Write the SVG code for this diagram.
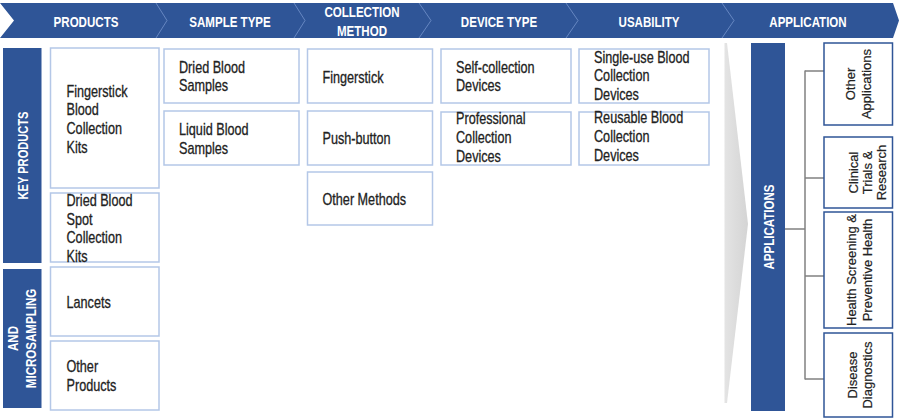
<svg xmlns="http://www.w3.org/2000/svg" width="900" height="419" viewBox="0 0 900 419">
<defs>
<style>
.hdr{font-family:"Liberation Sans",Arial,sans-serif;font-weight:bold;font-size:15px;fill:#ffffff}
.body{font-family:"Liberation Sans",Arial,sans-serif;font-size:16px;fill:#222222;stroke:#222222;stroke-width:0.3}
.app{font-family:"Liberation Sans",Arial,sans-serif;font-size:13px;fill:#222222;stroke:#222222;stroke-width:0.2}
.box{fill:#ffffff;stroke:#B4C7E7;stroke-width:1.5}
.abox{fill:#ffffff;stroke:#2F5597;stroke-width:1.5}
.bar{fill:#2F5597}
.sep{fill:none;stroke:#7393CC;stroke-width:0.8}
.con{fill:none;stroke:#808080;stroke-width:1.5}
</style>
<linearGradient id="wedge" x1="0" y1="0" x2="1" y2="0">
<stop offset="0" stop-color="#e4e4e4"/>
<stop offset="1" stop-color="#d4d4d4"/>
</linearGradient>
</defs>
<rect width="900" height="419" fill="#ffffff"/>

<g id="header">
<polygon class="bar" points="0,3 893,3 899,20.5 893,38 0,38 14,20.5"/>
<polyline class="sep" points="156,3 167,20.5 156,38"/>
<polyline class="sep" points="294,3 305,20.5 294,38"/>
<polyline class="sep" points="419,3 431,20.5 419,38"/>
<polyline class="sep" points="566,3 578,20.5 566,38"/>
<polyline class="sep" points="722,3 734,20.5 722,38"/>
<text class="hdr" text-anchor="middle" transform="translate(86,26.5) scale(0.77,1)">PRODUCTS</text>
<text class="hdr" text-anchor="middle" transform="translate(230,26.5) scale(0.77,1)">SAMPLE TYPE</text>
<text class="hdr" text-anchor="middle" transform="translate(362,16.5) scale(0.77,1)"><tspan x="0">COLLECTION</tspan><tspan x="0" dy="20">METHOD</tspan></text>
<text class="hdr" text-anchor="middle" transform="translate(499,26.5) scale(0.77,1)">DEVICE TYPE</text>
<text class="hdr" text-anchor="middle" transform="translate(649,26.5) scale(0.77,1)">USABILITY</text>
<text class="hdr" text-anchor="middle" transform="translate(808,26.5) scale(0.77,1)">APPLICATION</text>
</g>

<g id="key-products-label">
<rect class="bar" x="3" y="48" width="38.5" height="215"/>
<text class="hdr" text-anchor="middle" transform="translate(27.5,155.5) rotate(-90) scale(0.74,1)">KEY PRODUCTS</text>
</g>
<g id="microsampling-label">
<rect class="bar" x="3" y="269" width="38.5" height="139"/>
<text class="hdr" text-anchor="middle" transform="translate(18,338.5) rotate(-90) scale(0.77,1)"><tspan x="0">AND</tspan><tspan x="0" dy="18.5">MICROSAMPLING</tspan></text>
</g>

<g id="fingerstick-kits">
<rect class="box" x="50.5" y="48" width="108.5" height="140"/>
<text class="body" transform="translate(66.5,96.5) scale(0.79,1)"><tspan x="0">Fingerstick</tspan><tspan x="0" dy="18.7">Blood</tspan><tspan x="0" dy="18.7">Collection</tspan><tspan x="0" dy="18.7">Kits</tspan></text>
</g>
<g id="dried-blood-spot-kits">
<rect class="box" x="50.5" y="193" width="108.5" height="69"/>
<text class="body" transform="translate(66.5,206) scale(0.79,1)"><tspan x="0">Dried Blood</tspan><tspan x="0" dy="18.7">Spot</tspan><tspan x="0" dy="18.7">Collection</tspan><tspan x="0" dy="18.7">Kits</tspan></text>
</g>
<g id="lancets">
<rect class="box" x="50.5" y="267" width="108.5" height="69"/>
<text class="body" transform="translate(66.5,308) scale(0.79,1)">Lancets</text>
</g>
<g id="other-products">
<rect class="box" x="50.5" y="341" width="108.5" height="69"/>
<text class="body" transform="translate(66.5,372) scale(0.79,1)"><tspan x="0">Other</tspan><tspan x="0" dy="19">Products</tspan></text>
</g>

<g id="dried-blood-samples">
<rect class="box" x="164" y="49" width="135" height="54"/>
<text class="body" transform="translate(179,72.5) scale(0.79,1)"><tspan x="0">Dried Blood</tspan><tspan x="0" dy="19">Samples</tspan></text>
</g>
<g id="liquid-blood-samples">
<rect class="box" x="164" y="111" width="135" height="54"/>
<text class="body" transform="translate(179,135) scale(0.79,1)"><tspan x="0">Liquid Blood</tspan><tspan x="0" dy="19">Samples</tspan></text>
</g>

<g id="method-fingerstick">
<rect class="box" x="307.5" y="49" width="125" height="54"/>
<text class="body" transform="translate(322.5,82.5) scale(0.79,1)">Fingerstick</text>
</g>
<g id="method-push-button">
<rect class="box" x="307.5" y="111" width="125" height="54"/>
<text class="body" transform="translate(322.5,144) scale(0.79,1)">Push-button</text>
</g>
<g id="method-other">
<rect class="box" x="307.5" y="172" width="125" height="53"/>
<text class="body" transform="translate(322.5,205) scale(0.79,1)">Other Methods</text>
</g>

<g id="self-collection">
<rect class="box" x="441" y="49" width="130" height="54"/>
<text class="body" transform="translate(456,72.5) scale(0.79,1)"><tspan x="0">Self-collection</tspan><tspan x="0" dy="19">Devices</tspan></text>
</g>
<g id="professional-collection">
<rect class="box" x="441" y="112" width="130" height="53"/>
<text class="body" transform="translate(456,124) scale(0.79,1)"><tspan x="0">Professional</tspan><tspan x="0" dy="18.8">Collection</tspan><tspan x="0" dy="18.8">Devices</tspan></text>
</g>

<g id="single-use">
<rect class="box" x="579" y="49" width="130" height="54"/>
<text class="body" transform="translate(594,62.5) scale(0.79,1)"><tspan x="0">Single-use Blood</tspan><tspan x="0" dy="18.8">Collection</tspan><tspan x="0" dy="18.8">Devices</tspan></text>
</g>
<g id="reusable">
<rect class="box" x="579" y="112" width="130" height="53"/>
<text class="body" transform="translate(594,123.3) scale(0.79,1)"><tspan x="0">Reusable Blood</tspan><tspan x="0" dy="18.8">Collection</tspan><tspan x="0" dy="18.8">Devices</tspan></text>
</g>

<g id="wedge-arrow">
<polygon points="724.5,43 727,43 748,224 727,403 724.5,403" fill="url(#wedge)"/>
</g>

<g id="applications">
<rect class="bar" x="751" y="43" width="34" height="368"/>
<text class="hdr" text-anchor="middle" transform="translate(773.5,227) rotate(-90) scale(0.77,1)">APPLICATIONS</text>
</g>

<g id="connectors">
<line class="con" x1="785" y1="229" x2="805" y2="229"/>
<line class="con" x1="805" y1="70.5" x2="805" y2="379.5"/>
<line class="con" x1="805" y1="71" x2="824" y2="71"/>
<line class="con" x1="805" y1="178" x2="824" y2="178"/>
<line class="con" x1="805" y1="276" x2="824" y2="276"/>
<line class="con" x1="805" y1="379" x2="824" y2="379"/>
</g>

<g id="other-applications">
<rect class="abox" x="824" y="43" width="68.5" height="82"/>
<text class="app" text-anchor="middle" transform="translate(854.5,84) rotate(-90)"><tspan x="0">Other</tspan><tspan x="0" dy="16.5">Applications</tspan></text>
</g>
<g id="clinical-trials">
<rect class="abox" x="824" y="137" width="68.5" height="71"/>
<text class="app" text-anchor="middle" transform="translate(857.5,172.5) rotate(-90)"><tspan x="0">Clinical</tspan><tspan x="0" dy="14">Trials &amp;</tspan><tspan x="0" dy="14">Research</tspan></text>
</g>
<g id="health-screening">
<rect class="abox" x="824" y="212" width="68.5" height="116"/>
<text class="app" text-anchor="middle" transform="translate(856,270) rotate(-90)"><tspan x="0">Health Screening &amp;</tspan><tspan x="0" dy="16">Preventive Health</tspan></text>
</g>
<g id="disease-diagnostics">
<rect class="abox" x="824" y="333" width="68.5" height="84"/>
<text class="app" text-anchor="middle" transform="translate(856.5,375) rotate(-90)"><tspan x="0">Disease</tspan><tspan x="0" dy="15">Diagnostics</tspan></text>
</g>
</svg>
